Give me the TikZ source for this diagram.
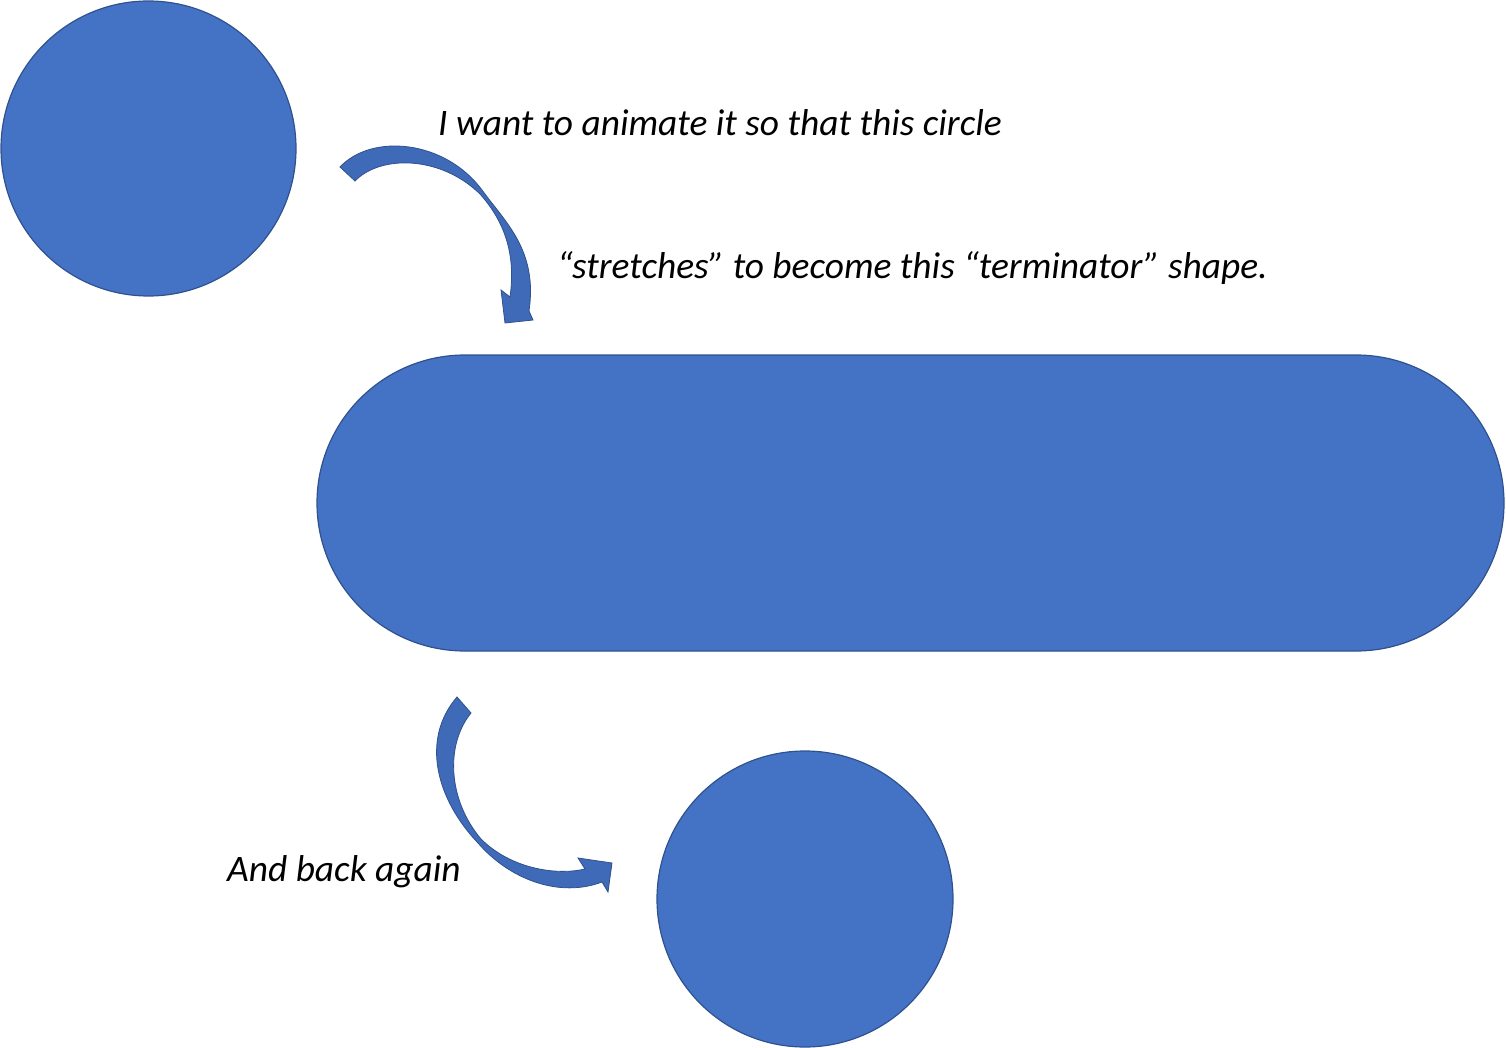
\documentclass[tikz,border=0pt]{standalone}
\usepackage{fontspec}
\setmainfont{Carlito}
\begin{document}
\begin{tikzpicture}[x=1pt,y=-1pt,
  blueshape/.style={fill=shapefill,draw=shapeedge,line width=1.2pt},
  blockarrow/.style={fill=arrowfill,draw=shapeedge,line width=0.8pt,line join=miter},
  note/.style={anchor=base west,inner sep=0pt,font=\fontsize{37.4}{44}\selectfont\itshape}]
\definecolor{shapefill}{HTML}{4472C4}
\definecolor{shapeedge}{HTML}{2F528F}
\definecolor{arrowfill}{HTML}{3F6AB8}
\useasboundingbox (0,0) rectangle (1506,1048);
% shapes
\node[blueshape,circle,minimum size=295pt,inner sep=0pt] (c1) at (148.5,148.5) {};
\node[blueshape,rectangle,rounded corners=148pt,minimum width=1187pt,minimum height=296pt,inner sep=0pt] (term) at (910.5,503) {};
\node[blueshape,circle,minimum size=296pt,inner sep=0pt] (c2) at (805,899) {};
% texts
\node[note] (t1) at (438,136) {I want to animate it so that this circle};
\node[note] (t2) at (557,279) {“stretches” to become this “terminator” shape.};
\node[note] (t3) at (227,881) {And back again};
% arrow 1
\draw[blockarrow] (355,181) -- (340,167)
  .. controls (372,133) and (445,140) .. (482,190)
  .. controls (505,222) and (538,250) .. (529,311)
  -- (533,320) -- (505,323) -- (501,290) -- (510,297)
  .. controls (516,255) and (505,222) .. (480,194)
  .. controls (440,155) and (380,155) .. (355,181) -- cycle;
% arrow 2
\draw[blockarrow] (457,697) -- (471,713)
  .. controls (445,745) and (448,800) .. (481,839)
  .. controls (510,868) and (555,876) .. (585,869)
  -- (578,858) -- (612,863) -- (608,892) -- (602,882)
  .. controls (560,898) and (510,880) .. (478,843)
  .. controls (437,800) and (420,740) .. (457,697) -- cycle;
\end{tikzpicture}
\end{document}
